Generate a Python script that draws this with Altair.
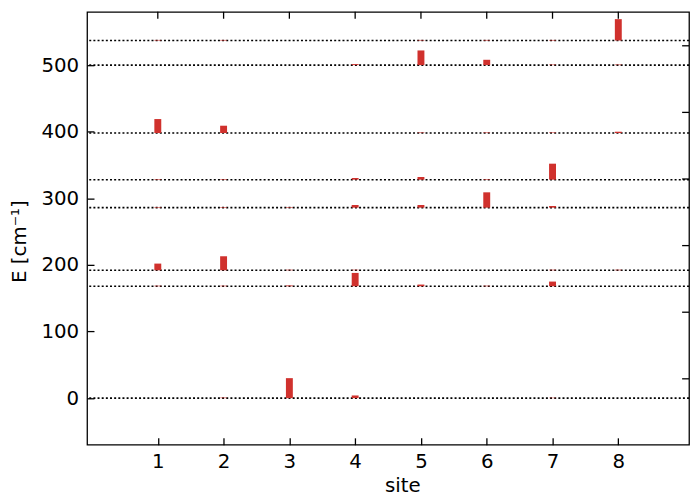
import altair as alt
import pandas as pd

# ---- data ----
sites = [1, 2, 3, 4, 5, 6, 7, 8]
levels = [0, 168, 192, 286, 328, 398, 500, 537]
# bar heights (cm^-1) at each level, for sites 1..8
h_0 = [0, 0.8, 30, 4, 0, 0, 0.6, 0]
h_168 = [0.8, 0.8, 1.2, 20, 2.5, 0.8, 7, 0]
h_192 = [10, 21, 0.8, 0.8, 0, 0, 0.8, 0.8]
h_286 = [0.8, 0.8, 0.8, 4, 4, 23, 2.5, 0]
h_328 = [0.8, 0.8, 0, 2.5, 4, 0.8, 24, 0]
h_398 = [21, 11, 0, 0, 0.8, 0.8, 0.8, 2]
h_500 = [0, 0, 0, 1.5, 22, 8, 0.8, 0.8]
h_537 = [0.8, 0.8, 0, 0, 0.8, 0.8, 0.8, 32]
heights = [h_0, h_168, h_192, h_286, h_328, h_398, h_500, h_537]

y_ticks = [0, 100, 200, 300, 400, 500]
y2_ticks = [29, 129, 229, 329, 429, 529]
x_ticks = sites

rows = []
for lv, hs in zip(levels, heights):
    for s, h in zip(sites, hs):
        if h > 0:
            rows.append({"site": s, "base": lv, "top": lv + h})
bars_df = pd.DataFrame(rows)
levels_df = pd.DataFrame({"E": levels})
xt_df = pd.DataFrame({"t": x_ticks})
yt2_df = pd.DataFrame({"t": y2_ticks})

W, H = 609, 438
FONT = "DejaVu Sans"
xscale = alt.Scale(domain=[0, 9], nice=False, zero=False)
yscale = alt.Scale(domain=[-70, 580], nice=False, zero=False)

xaxis = alt.Axis(
    values=x_ticks, format="d", orient="bottom", offset=-7, tickSize=7, domain=False,
    grid=False, labelPadding=7, labelFontSize=20, labelFont=FONT, labelColor="black",
    tickColor="black", tickWidth=1.3,
    title="site", titleFont=FONT, titleFontSize=20, titleFontWeight="normal",
    titleColor="black", titleX=319, titleY=54, titleBaseline="alphabetic",
    titleAlign="center",
)
yaxis = alt.Axis(
    values=y_ticks, format="d", orient="left", offset=-7, tickSize=7, domain=False,
    grid=False, labelPadding=8.5, labelFontSize=20, labelFont=FONT, labelColor="black",
    tickColor="black", tickWidth=1.3,
    title="E [cm⁻¹]", titleFont=FONT, titleFontSize=20, titleFontWeight="normal",
    titleColor="black", titleX=-69, titleY=232, titleBaseline="alphabetic",
    titleAlign="center", titleAngle=270,
)

level_lines = alt.Chart(levels_df).mark_rule(
    color="black", strokeWidth=1.6, strokeDash=[2, 2.2], strokeCap="butt"
).encode(y=alt.Y("E:Q", scale=yscale, axis=yaxis))

bars = alt.Chart(bars_df).mark_bar(color="#d0312d", size=7).encode(
    x=alt.X("site:Q", scale=xscale, axis=xaxis),
    y=alt.Y("base:Q", scale=yscale),
    y2="top:Q",
)

top_ticks = alt.Chart(xt_df).mark_rule(color="black", strokeWidth=1.3).encode(
    x=alt.X("t:Q", scale=xscale), y=alt.value(0), y2=alt.value(7)
)
right_ticks = alt.Chart(yt2_df).mark_rule(color="black", strokeWidth=1.3).encode(
    y=alt.Y("t:Q", scale=yscale), x=alt.value(W - 7), x2=alt.value(W)
)

chart = alt.layer(level_lines, bars, top_ticks, right_ticks).properties(
    width=W,
    height=H,
    autosize=alt.AutoSizeParams(type="none"),
    padding={"left": 80, "top": 1, "right": 3, "bottom": 51},
).configure(
    background="white",
    view=alt.ViewConfig(stroke="black", strokeWidth=1.3),
)

chart.save("out.html", embed_options={"renderer": "svg", "actions": False})
